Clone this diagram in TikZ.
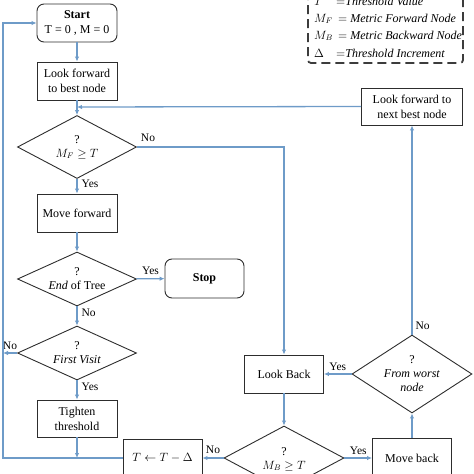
\documentclass[tikz,border=0pt]{standalone}
\usepackage{fontspec}
\setmainfont{Liberation Serif}
\usetikzlibrary{shapes.geometric,arrows.meta}
\definecolor{flow}{RGB}{110,155,200}
\definecolor{edgec}{RGB}{45,45,45}
\definecolor{legc}{RGB}{60,60,60}
\begin{document}
\begin{tikzpicture}[x=1pt,y=-1pt,font=\fontsize{12}{15}\selectfont,
  box/.style={draw=edgec,line width=0.9pt,minimum width=80pt,minimum height=38pt,inner sep=0pt,align=center},
  rbox/.style={box,rounded corners=7pt},
  dia/.style={draw=edgec,line width=0.9pt,diamond,inner sep=0pt},
  dtext/.style={align=center,inner sep=0pt},
  flowline/.style={draw=flow,line width=1.3pt},
  arr/.style={flowline,-{Latex[length=5pt,width=4.5pt]}},
  lbl/.style={inner sep=0pt,font=\fontsize{11.5}{13}\selectfont},
  legline/.style={draw=legc,line width=1.8pt,dash pattern=on 9pt off 5pt,rounded corners=3pt}]
\useasboundingbox (0,0) rectangle (474,474);

% nodes
\node[rbox] (start) at (77,23) {\textbf{Start}\\T = 0 , M = 0};
\node[box] (lf1) at (77,81) {Look forward\\to best node};
\node[dia,minimum width=119pt,minimum height=63pt] (d1) at (77,147) {};
\node[dtext] at (d1) {?\\[-1pt]$M_F \geq T$};
\node[box] (mf) at (77,213) {Move forward};
\node[dia,minimum width=119pt,minimum height=54pt] (d2) at (77,279) {};
\node[dtext] at (d2) {?\\[-1pt]\textit{End} of Tree};
\node[rbox,minimum width=79pt,minimum height=39pt] (stop) at (204.5,278.5) {\textbf{Stop}};
\node[dia,minimum width=119pt,minimum height=54pt] (d3) at (77,353) {};
\node[dtext] at (d3) {?\\[-1pt]\textit{First Visit}};
\node[box,minimum height=37pt] (tt) at (77,418.5) {Tighten\\threshold};
\node[box,minimum width=79pt] (tb) at (162.5,458) {$T \leftarrow T - \Delta$};
\node[dia,minimum width=120pt,minimum height=64pt] (d4) at (284,458) {};
\node[dtext] at ([yshift=-1pt]d4) {?\\[-1pt]$M_B \geq T$};
\node[box,minimum width=79pt] (lb) at (284,374) {Look Back};
\node[box,minimum width=79pt,minimum height=39pt] (mb) at (412,458) {Move back};
\node[dia,minimum width=120pt,minimum height=78pt] (d5) at (412,374) {};
\node[dtext] at (d5) {?\\[-1pt]\textit{From worst}\\[-1pt]\textit{node}};
\node[box,minimum width=101pt,minimum height=37pt] (lf2) at (412,106.5) {Look forward to\\next best node};

% coordinates
\coordinate (L3) at (3,353);
\coordinate (Lb) at (3,458);
\coordinate (Lt) at (3,23);
\coordinate (J) at (77,458);
\coordinate (M) at (77,107);

% connectors
\draw[arr] (start) -- (lf1);
\draw[arr] (lf1) -- (d1);
\draw[arr] (d1) -- (mf) node[lbl,pos=0.3,right=4pt] {Yes};
\draw[arr] (d1.east) -| (lb.north);
\draw[arr] (mf) -- (d2);
\draw[arr] (d2) -- (stop) node[lbl,midway,above=3pt] {Yes};
\draw[arr] (d2) -- (d3) node[lbl,pos=0.35,right=4pt] {No};
\draw[arr] (d3.west) -- (L3) node[lbl,midway,above=3pt] {No};
\draw[arr] (d3) -- (tt) node[lbl,pos=0.35,right=4pt] {Yes};
\draw[arr] (tt) -- (J);
\draw[arr] (tb.west) -- (Lb) -- (Lt) -- (start.west);
\draw[arr] (lb) -- (d4);
\draw[arr] (d4) -- (tb) node[lbl,midway,above=4pt] {No};
\draw[arr] (d4) -- (mb) node[lbl,midway,above=3pt] {Yes};
\draw[arr] (mb) -- (d5);
\draw[arr] (d5) -- (lb) node[lbl,midway,above=3pt] {Yes};
\draw[arr] (d5) -- (lf2) node[lbl,pos=0.04,right=3pt] {No};
\draw[arr] (lf2.west) -- (M);
\node[lbl] at (148,138) {No};

% legend
\draw[legline] (308,-12) rectangle (463,63);
\node[anchor=base west,inner sep=0pt] at (314,5) {$T$};
\node[anchor=base west,inner sep=0pt] at (336,5) {$=$\textit{Threshold Value}};
\node[anchor=base west,inner sep=0pt] at (314,22) {$M_F$};
\node[anchor=base west,inner sep=0pt] at (338,22) {$=$ \textit{Metric Forward Node}};
\node[anchor=base west,inner sep=0pt] at (314,39) {$M_B$};
\node[anchor=base west,inner sep=0pt] at (338,39) {$=$ \textit{Metric Backward Node}};
\node[anchor=base west,inner sep=0pt] at (314,57) {$\Delta$};
\node[anchor=base west,inner sep=0pt] at (336,57) {$=$\textit{Threshold Increment}};
\end{tikzpicture}
\end{document}
